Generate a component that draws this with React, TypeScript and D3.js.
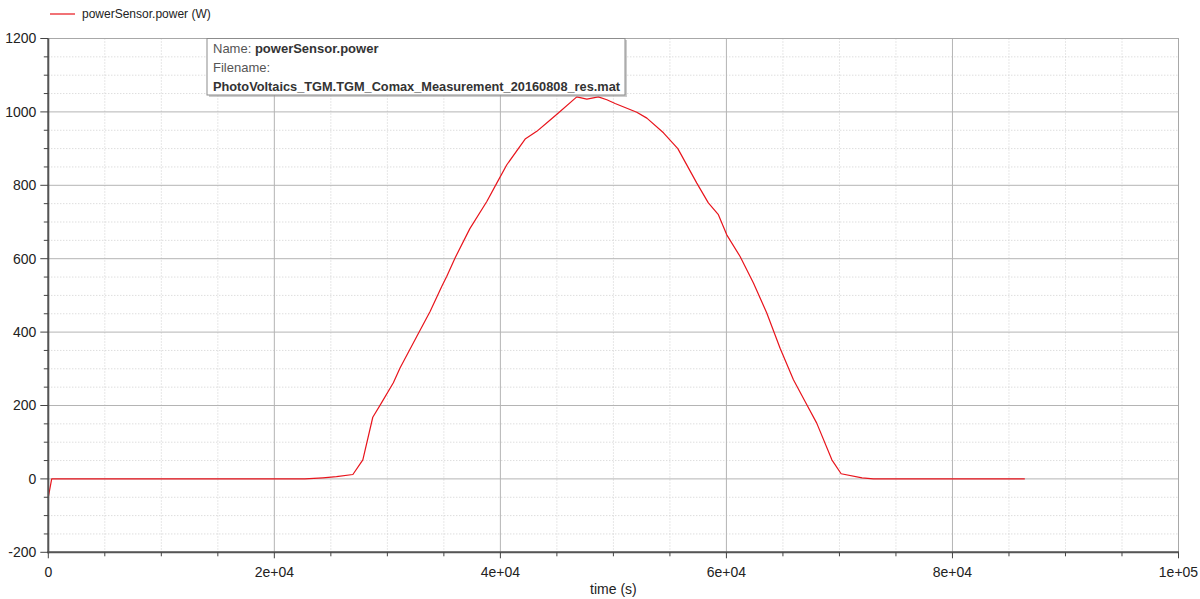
import React from "react";
import * as d3 from "d3";

const times = [0, 300, 22700, 24300, 25500, 26950, 27830, 28710, 29440, 30530, 31120, 32600, 33780, 34810, 35260, 35990, 37300, 38800, 39680, 40570, 42190, 43220, 44250, 45130, 46760, 47650, 48670, 49420, 50150, 52070, 52960, 54430, 55700, 57380, 58400, 59290, 60030, 61210, 62390, 63570, 64750, 65930, 66960, 67990, 69330, 70150, 72000, 73000, 86400];
const power = [-50, 0, 0, 3, 6, 12, 52, 168, 205, 262, 302, 388, 456, 524, 552, 602, 682, 756, 806, 856, 926, 947, 974, 997, 1041, 1035, 1041, 1033, 1023, 999, 983, 943, 900, 806, 752, 720, 665, 606, 534, 452, 356, 270, 211, 152, 52, 14, 3, 0, 0];

const xMajorTicks = [0, 20000, 40000, 60000, 80000, 100000];
const xTickLabels = ["0", "2e+04", "4e+04", "6e+04", "8e+04", "1e+05"];
const yMajorTicks = [-200, 0, 200, 400, 600, 800, 1000, 1200];
const yTickLabels = ["-200", "0", "200", "400", "600", "800", "1000", "1200"];
const seriesName = "powerSensor.power (W)";
const xAxisTitle = "time (s)";
const tooltipName = "powerSensor.power";
const tooltipFile = "PhotoVoltaics_TGM.TGM_Comax_Measurement_20160808_res.mat";

const L = 48.3, R = 1178.5, T = 38.5, B = 552.3;
const font = "'Liberation Sans', Arial, sans-serif";

export default function App() {
  const x = d3.scaleLinear().domain([0, 100000]).range([L, R]);
  const y = d3.scaleLinear().domain([-200, 1200]).range([B, T]);
  const xMinor = d3.range(0, 100001, 5000).filter((v) => v % 20000 !== 0);
  const yMinor = d3.range(-200, 1201, 50).filter((v) => v % 200 !== 0);
  const line = d3
    .line<number>()
    .x((_, i) => x(times[i]))
    .y((d) => y(d));
  const path = line(power) || "";

  return (
    <svg
      width={1200}
      height={599}
      style={{ position: "absolute", left: 0, top: 0, background: "#fff" }}
    >
      <rect x={0} y={0} width={1200} height={599} fill="#fff" />
      {/* minor grid */}
      {xMinor.map((v) => (
        <line key={"xm" + v} x1={x(v)} x2={x(v)} y1={T} y2={B} stroke="#cfcfcf" strokeWidth={1} strokeDasharray="1,2" />
      ))}
      {yMinor.map((v) => (
        <line key={"ym" + v} x1={L} x2={R} y1={y(v)} y2={y(v)} stroke="#cfcfcf" strokeWidth={1} strokeDasharray="1,2" />
      ))}
      {/* major grid */}
      {xMajorTicks.map((v) => (
        <line key={"xg" + v} x1={x(v)} x2={x(v)} y1={T} y2={B} stroke="#b4b4b4" strokeWidth={1} />
      ))}
      {yMajorTicks.map((v) => (
        <line key={"yg" + v} x1={L} x2={R} y1={y(v)} y2={y(v)} stroke="#b4b4b4" strokeWidth={1} />
      ))}
      {/* border */}
      <rect x={L} y={T} width={R - L} height={B - T} fill="none" stroke="#a8a8a8" strokeWidth={1} />
      {/* data line */}
      <path d={path} fill="none" stroke="#e8141c" strokeWidth={1.2} strokeLinejoin="round" />
      {/* axes */}
      <line x1={L} x2={L} y1={T} y2={B + 1} stroke="#555" strokeWidth={2} />
      <line x1={L - 1} x2={R + 0.5} y1={B} y2={B} stroke="#555" strokeWidth={2} />
      {yMajorTicks.map((v) => (
        <line key={"yt" + v} x1={L - 8} x2={L} y1={y(v)} y2={y(v)} stroke="#444" strokeWidth={1} />
      ))}
      {yMinor.map((v) => (
        <line key={"ymt" + v} x1={L - 4.5} x2={L} y1={y(v)} y2={y(v)} stroke="#444" strokeWidth={1} />
      ))}
      {xMajorTicks.map((v) => (
        <line key={"xt" + v} x1={x(v)} x2={x(v)} y1={B} y2={B + 6} stroke="#444" strokeWidth={1} />
      ))}
      {xMinor.map((v) => (
        <line key={"xmt" + v} x1={x(v)} x2={x(v)} y1={B} y2={B + 4} stroke="#444" strokeWidth={1} />
      ))}
      {/* tick labels */}
      {yMajorTicks.map((v, i) => (
        <text key={"yl" + v} x={L - 12} y={y(v)} dy="0.35em" textAnchor="end" fontFamily={font} fontSize={14} fill="#222">
          {yTickLabels[i]}
        </text>
      ))}
      {xMajorTicks.map((v, i) => (
        <text key={"xl" + v} x={x(v)} y={572} dy="0.35em" textAnchor="middle" fontFamily={font} fontSize={14} fill="#222">
          {xTickLabels[i]}
        </text>
      ))}
      <text x={(L + R) / 2} y={589} dy="0.35em" textAnchor="middle" fontFamily={font} fontSize={14} fill="#222">
        {xAxisTitle}
      </text>
      {/* legend */}
      <line x1={50} x2={75} y1={14} y2={14} stroke="#e8141c" strokeWidth={1.2} />
      <text x={82} y={14} dy="0.35em" fontFamily={font} fontSize={12} fill="#222">
        {seriesName}
      </text>
      {/* tooltip */}
      <rect x={209} y={40} width={418} height={57} fill="#9a9a9a" opacity={0.5} />
      <rect x={207} y={38.5} width={418} height={56.5} fill="#fff" stroke="#8c8c8c" strokeWidth={1} />
      <text x={213} y={48} dy="0.35em" fontFamily={font} fontSize={13} fill="#555">
        Name: <tspan fontWeight="bold" fill="#333">{tooltipName}</tspan>
      </text>
      <text x={213} y={67} dy="0.35em" fontFamily={font} fontSize={13} fill="#555">
        Filename:
      </text>
      <text x={213} y={86} dy="0.35em" fontFamily={font} fontSize={13} fontWeight="bold" fill="#333" textLength={407} lengthAdjust="spacingAndGlyphs">
        {tooltipFile}
      </text>
    </svg>
  );
}
